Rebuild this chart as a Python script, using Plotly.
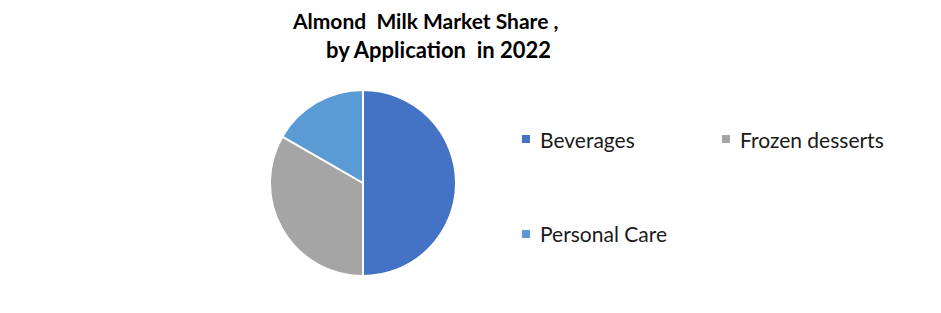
import plotly.graph_objects as go

labels = ["Beverages", "Frozen desserts", "Personal Care"]
values = [50, 33.3, 16.7]
colors = ["#4472C4", "#A5A5A5", "#5B9BD5"]
title_lines = ["Almond  Milk Market Share ,", "by Application  in 2022"]

W, H = 941, 313
cx, cy, r = 363, 183, 93

fig = go.Figure()
fig.add_trace(go.Pie(
    labels=labels, values=values, sort=False, direction="clockwise", rotation=0,
    marker=dict(colors=colors, line=dict(color="white", width=2)),
    textinfo="none", hoverinfo="label+percent", showlegend=False,
    domain=dict(x=[(cx - r) / W, (cx + r) / W], y=[(H - cy - r) / H, (H - cy + r) / H]),
))

# legend built from labels/colors
leg_pos = [(522, 139), (722, 139), (522, 234)]
shapes = []
annotations = []
for lab, col, (lx, ly) in zip(labels, colors, leg_pos):
    shapes.append(dict(type="rect", xref="paper", yref="paper",
                       x0=lx / W, x1=(lx + 8) / W, y0=(H - ly - 4) / H, y1=(H - ly + 4) / H,
                       fillcolor=col, line=dict(width=0)))
    annotations.append(dict(text=lab, xref="paper", yref="paper", x=(lx + 16) / W, y=(H - ly) / H,
                            xanchor="left", yanchor="middle", showarrow=False,
                            font=dict(family="Lato", size=21, color="#1a1a1a")))

title_pos = [(425, 20, 21), (438, 50, 22)]
for txt, (tx, ty, fs) in zip(title_lines, title_pos):
    annotations.append(dict(text="<b>" + txt + "</b>", xref="paper", yref="paper",
                            x=tx / W, y=(H - ty) / H, xanchor="center", yanchor="middle",
                            showarrow=False, font=dict(family="Lato", size=fs, color="#000000")))

fig.update_layout(width=W, height=H, margin=dict(l=0, r=0, t=0, b=0),
                  paper_bgcolor="white", plot_bgcolor="white",
                  shapes=shapes, annotations=annotations)
fig.write_html("out.html")
